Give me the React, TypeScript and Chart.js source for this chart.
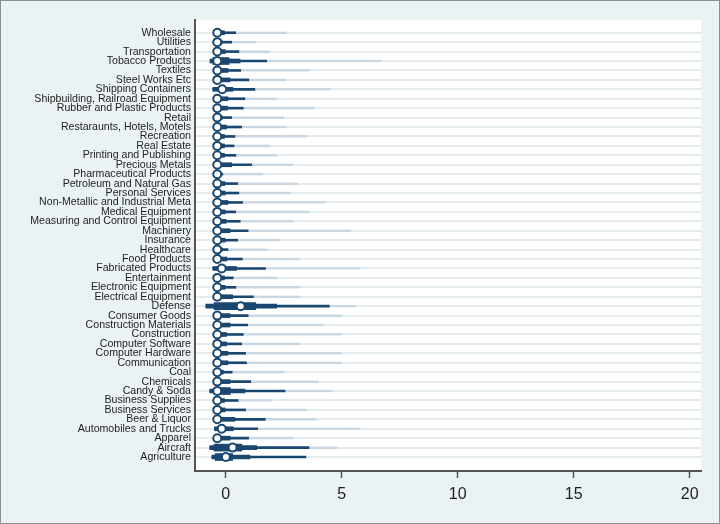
import React, { useEffect, useRef } from 'react';
import { Chart, registerables } from 'chart.js';
Chart.register(...registerables);

const industries = [
  'Wholesale', 'Utilities', 'Transportation', 'Tobacco Products', 'Textiles', 'Steel Works Etc',
  'Shipping Containers', 'Shipbuilding, Railroad Equipment', 'Rubber and Plastic Products', 'Retail',
  'Restaraunts, Hotels, Motels', 'Recreation', 'Real Estate', 'Printing and Publishing', 'Precious Metals',
  'Pharmaceutical Products', 'Petroleum and Natural Gas', 'Personal Services', 'Non-Metallic and Industrial Meta',
  'Medical Equipment', 'Measuring and Control Equipment', 'Machinery', 'Insurance', 'Healthcare',
  'Food Products', 'Fabricated Products', 'Entertainment', 'Electronic Equipment', 'Electrical Equipment',
  'Defense', 'Consumer Goods', 'Construction Materials', 'Construction', 'Computer Software',
  'Computer Hardware', 'Communication', 'Coal', 'Chemicals', 'Candy & Soda', 'Business Supplies',
  'Business Services', 'Beer & Liquor', 'Automobiles and Trucks', 'Apparel', 'Aircraft', 'Agriculture',
];

const medians = [
  -0.36, -0.36, -0.36, -0.36, -0.36, -0.36, -0.15, -0.36, -0.36, -0.36,
  -0.36, -0.36, -0.36, -0.36, -0.36, -0.36, -0.36, -0.36, -0.36, -0.36,
  -0.36, -0.36, -0.36, -0.36, -0.36, -0.17, -0.36, -0.36, -0.36, 0.65,
  -0.36, -0.36, -0.36, -0.36, -0.36, -0.36, -0.36, -0.36, -0.36, -0.36,
  -0.36, -0.36, -0.17, -0.36, 0.3, 0.01,
];
const lowerQ = [
  -0.42, -0.42, -0.42, -0.67, -0.42, -0.42, -0.55, -0.42, -0.42, -0.42,
  -0.42, -0.42, -0.42, -0.42, -0.42, -0.42, -0.42, -0.42, -0.42, -0.42,
  -0.42, -0.42, -0.42, -0.42, -0.42, -0.55, -0.42, -0.42, -0.42, -0.85,
  -0.42, -0.42, -0.42, -0.42, -0.42, -0.42, -0.42, -0.42, -0.68, -0.42,
  -0.42, -0.42, -0.48, -0.42, -0.68, -0.59,
];
const upperQ = [
  -0.05, -0.15, 0.0, 0.62, 0.1, 0.19, 0.31, 0.1, 0.08, -0.15,
  0.04, -0.05, -0.05, -0.05, 0.26, -0.2, -0.03, 0.0, 0.1, 0.0,
  0.02, 0.19, 0.0, -0.15, 0.05, 0.47, -0.05, 0.0, 0.3, 2.2,
  0.19, 0.19, 0.04, 0.04, 0.1, 0.1, -0.1, 0.19, 0.83, -0.05,
  0.0, 0.4, 0.33, 0.19, 1.34, 1.05,
];
const upperAdjacent = [
  0.43, 0.26, 0.57, 1.77, 0.65, 1.0, 1.26, 0.83, 0.76, 0.26,
  0.69, 0.4, 0.36, 0.44, 1.12, -0.12, 0.52, 0.57, 0.73, 0.43,
  0.63, 0.97, 0.52, 0.1, 0.72, 1.72, 0.33, 0.44, 1.2, 4.47,
  0.97, 0.95, 0.76, 0.69, 0.86, 0.9, 0.28, 1.08, 2.56, 0.54,
  0.86, 1.71, 1.38, 0.99, 3.59, 3.46,
];
const densityTail = [
  2.6, 1.3, 1.9, 6.7, 3.6, 2.6, 4.5, 2.2, 3.8, 2.5,
  2.6, 3.5, 1.9, 2.2, 2.9, 1.6, 3.1, 2.8, 4.3, 3.6,
  2.9, 5.4, 2.3, 1.8, 3.2, 5.8, 2.2, 3.2, 3.2, 5.6,
  5.0, 4.2, 5.0, 3.2, 5.0, 5.0, 2.5, 4.0, 4.6, 2.0,
  3.5, 3.9, 5.8, 2.9, 4.8, 3.46,
];
// wide violin bodies (only where the density is visibly wide)
const bodyLow = [
  null, null, null, -0.55, null, null, null, null, null, null,
  null, null, null, null, null, null, null, null, null, null,
  null, null, null, null, null, null, null, null, null, -0.5,
  null, null, null, null, null, null, null, null, -0.5, null,
  null, null, null, null, -0.5, -0.45,
];
const bodyHigh = [
  null, null, null, 0.15, null, null, null, null, null, null,
  null, null, null, null, null, null, null, null, null, null,
  null, null, null, null, null, null, null, null, null, 1.3,
  null, null, null, null, null, null, null, null, 0.2, null,
  null, null, null, null, 0.7, 0.3,
];
const xTicks = [0, 5, 10, 15, 20];

const NAVY = '#1a476f';

export default function App() {
  const ref = useRef<HTMLCanvasElement>(null);
  useEffect(() => {
    document.body.style.margin = '0';
    const rows = industries.map((_, i) => i);
    const bodyData = rows
      .filter((i) => bodyLow[i] !== null)
      .map((i) => ({ x: [bodyLow[i] as number, bodyHigh[i] as number], y: i }));
    const whiskerData = rows.map((i) => ({ x: [lowerQ[i], upperAdjacent[i]], y: i }));
    const boxData = rows.map((i) => ({ x: [lowerQ[i], upperQ[i]], y: i }));
    const tailData = rows.map((i) => ({ x: [upperAdjacent[i], densityTail[i]], y: i }));
    const medianData = rows.map((i) => ({ x: medians[i], y: i }));

    const bg = {
      id: 'plotBg',
      beforeDraw(c: any) {
        const { ctx, chartArea } = c;
        ctx.save();
        ctx.fillStyle = '#ffffff';
        ctx.fillRect(chartArea.left, chartArea.top, chartArea.right - chartArea.left, chartArea.bottom - chartArea.top);
        ctx.restore();
      },
    };

    const chart = new Chart(ref.current as HTMLCanvasElement, {
      type: 'bar',
      data: {
        datasets: [
          {
            type: 'scatter',
            data: medianData,
            pointRadius: 4,
            pointBorderWidth: 2,
            pointBackgroundColor: '#ffffff',
            pointBorderColor: NAVY,
            showLine: false,
          } as any,
          { type: 'bar', data: bodyData, barThickness: 7, backgroundColor: NAVY, grouped: false } as any,
          { type: 'bar', data: boxData, barThickness: 4, backgroundColor: NAVY, grouped: false } as any,
          { type: 'bar', data: whiskerData, barThickness: 2, backgroundColor: NAVY, grouped: false } as any,
          { type: 'bar', data: tailData, barThickness: 2, backgroundColor: 'rgba(26,71,111,0.13)', grouped: false } as any,
        ],
      },
      options: {
        indexAxis: 'y',
        responsive: false,
        animation: false,
        layout: { padding: { top: 20, right: 19, left: 0, bottom: 0 } },
        plugins: { legend: { display: false }, tooltip: { enabled: false } },
        scales: {
          x: {
            type: 'linear',
            min: -1.32,
            max: 20.49,
            offset: false,
            afterBuildTicks: (s: any) => {
              s.ticks = xTicks.map((v) => ({ value: v }));
            },
            afterFit: (s: any) => {
              s.height = 53;
            },
            grid: { drawOnChartArea: false, drawTicks: true, tickLength: 7, tickColor: '#555555', tickWidth: 1.5, offset: false },
            border: { display: true, color: '#555555', width: 2 },
            ticks: {
              padding: 7,
              color: '#1e1e1e',
              font: { family: "'Liberation Sans', Arial, sans-serif", size: 16 },
            },
          },
          y: {
            type: 'linear',
            reverse: true,
            offset: false,
            min: -1.35,
            max: 46.48,
            afterBuildTicks: (s: any) => {
              s.ticks = rows.map((v) => ({ value: v }));
            },
            afterFit: (s: any) => {
              s.width = 195;
            },
            grid: { color: '#e4ecf0', lineWidth: 2, drawTicks: false, offset: false },
            border: { display: true, color: '#555555', width: 2 },
            ticks: {
              autoSkip: false,
              padding: 4,
              color: '#1e1e1e',
              callback: (v: any) => industries[v as number] ?? '',
              font: { family: "'Liberation Sans', Arial, sans-serif", size: 10.6 },
            },
          },
        },
      },
      plugins: [bg],
    } as any);
    return () => chart.destroy();
  }, []);
  return (
    <div
      style={{
        position: 'fixed',
        left: 0,
        top: 0,
        width: 720,
        height: 524,
        background: '#eaf2f3',
        boxShadow: 'inset 0 0 0 1px #8a8f92',
      }}
    >
      <canvas ref={ref} width={720} height={524} style={{ display: 'block' }} />
    </div>
  );
}
